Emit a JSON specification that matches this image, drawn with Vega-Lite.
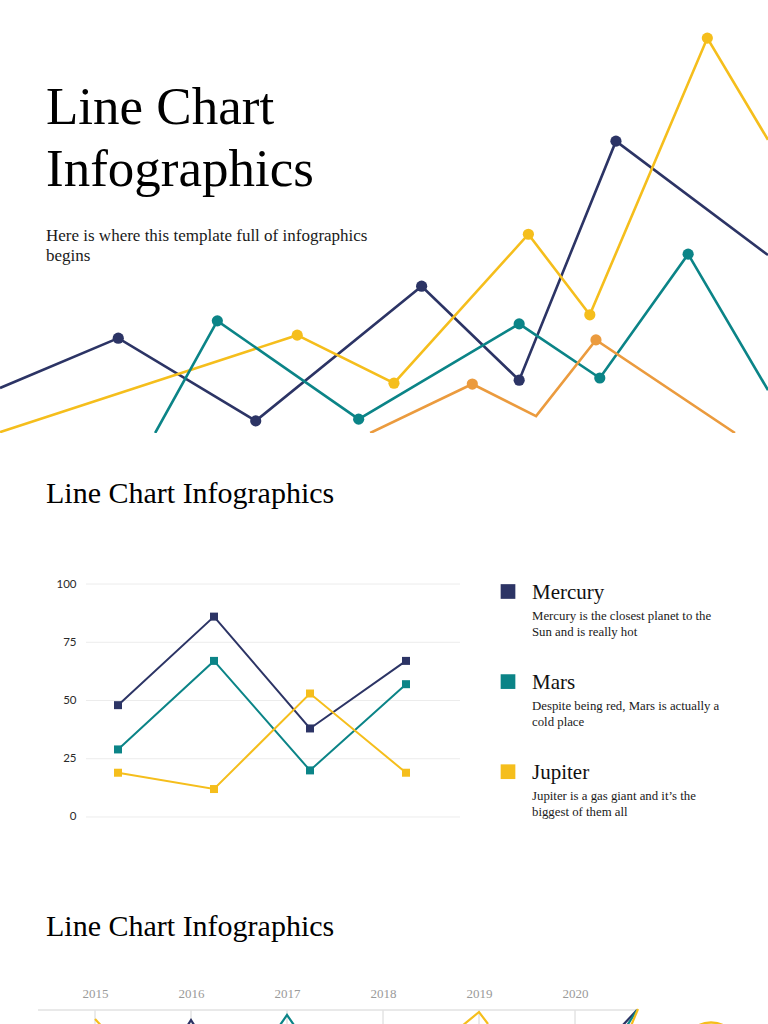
{
  "$schema": "https://vega.github.io/schema/vega-lite/v6.json",
  "background": "white",
  "padding": 0,
  "spacing": 0,
  "bounds": "flush",
  "config": {
    "view": {"stroke": null},
    "title": {"font": "Liberation Serif", "fontWeight": "normal", "color": "#000000", "anchor": "start", "frame": "group", "orient": "top"}
  },
  "vconcat": [
    {
      "width": 768,
      "height": 433,
      "title": {
        "text": ["Line Chart", "Infographics"],
        "subtitle": ["Here is where this template full of infographics", "begins"],
        "offset": -264,
        "dx": 46,
        "fontSize": 53,
        "lineHeight": 62,
        "subtitleFont": "Liberation Serif",
        "subtitleFontSize": 17,
        "subtitleLineHeight": 20,
        "subtitleColor": "#1a1a1a",
        "subtitlePadding": 31
      },
      "data": {
        "values": [
          {"series": "Mercury", "t": 0, "v": 10.4, "dot": false},
          {"series": "Mercury", "t": 15.4, "v": 21.9, "dot": true},
          {"series": "Mercury", "t": 33.3, "v": 2.8, "dot": true},
          {"series": "Mercury", "t": 54.9, "v": 33.9, "dot": true},
          {"series": "Mercury", "t": 67.6, "v": 12.2, "dot": true},
          {"series": "Mercury", "t": 80.2, "v": 67.4, "dot": true},
          {"series": "Mercury", "t": 100, "v": 41.1, "dot": false},
          {"series": "Jupiter", "t": 0, "v": 0.2, "dot": false},
          {"series": "Jupiter", "t": 38.7, "v": 22.6, "dot": true},
          {"series": "Jupiter", "t": 51.3, "v": 11.5, "dot": true},
          {"series": "Jupiter", "t": 68.8, "v": 45.9, "dot": true},
          {"series": "Jupiter", "t": 76.8, "v": 27.3, "dot": true},
          {"series": "Jupiter", "t": 92.1, "v": 91.2, "dot": true},
          {"series": "Jupiter", "t": 100, "v": 67.7, "dot": false},
          {"series": "Mars", "t": 20.2, "v": 0, "dot": false},
          {"series": "Mars", "t": 28.3, "v": 25.9, "dot": true},
          {"series": "Mars", "t": 46.7, "v": 3.2, "dot": true},
          {"series": "Mars", "t": 67.6, "v": 25.2, "dot": true},
          {"series": "Mars", "t": 78.1, "v": 12.7, "dot": true},
          {"series": "Mars", "t": 89.6, "v": 41.3, "dot": true},
          {"series": "Mars", "t": 100, "v": 9.9, "dot": false},
          {"series": "Saturn", "t": 48.2, "v": 0, "dot": false},
          {"series": "Saturn", "t": 61.5, "v": 11.3, "dot": true},
          {"series": "Saturn", "t": 69.8, "v": 3.9, "dot": false},
          {"series": "Saturn", "t": 77.6, "v": 21.5, "dot": true},
          {"series": "Saturn", "t": 95.7, "v": 0, "dot": false}
        ]
      },
      "encoding": {
        "x": {"field": "t", "type": "quantitative", "scale": {"domain": [0, 100], "nice": false, "zero": false}, "axis": null},
        "y": {"field": "v", "type": "quantitative", "scale": {"domain": [0, 100], "nice": false, "zero": false}, "axis": null},
        "color": {
          "field": "series",
          "type": "nominal",
          "scale": {"domain": ["Mercury", "Mars", "Jupiter", "Saturn"], "range": ["#2c3465", "#0b8487", "#f5be1c", "#eb9b3e"]},
          "legend": null
        }
      },
      "layer": [
        {"mark": {"type": "line", "strokeWidth": 2.6, "clip": true}},
        {
          "transform": [{"filter": "datum.dot"}],
          "mark": {"type": "circle", "size": 125, "opacity": 1, "clip": true}
        }
      ]
    },
    {
      "width": 768,
      "height": 447,
      "title": {"text": "Line Chart Infographics", "offset": -76, "dx": 46, "fontSize": 30},
      "resolve": {"scale": {"y": "independent"}},
      "layer": [
        {
          "data": {
            "values": [
              {"planet": "Mercury", "idx": 1, "value": 48},
              {"planet": "Mercury", "idx": 2, "value": 86},
              {"planet": "Mercury", "idx": 3, "value": 38},
              {"planet": "Mercury", "idx": 4, "value": 67},
              {"planet": "Mars", "idx": 1, "value": 29},
              {"planet": "Mars", "idx": 2, "value": 67},
              {"planet": "Mars", "idx": 3, "value": 20},
              {"planet": "Mars", "idx": 4, "value": 57},
              {"planet": "Jupiter", "idx": 1, "value": 19},
              {"planet": "Jupiter", "idx": 2, "value": 12},
              {"planet": "Jupiter", "idx": 3, "value": 53},
              {"planet": "Jupiter", "idx": 4, "value": 19}
            ]
          },
          "layer": [
            {
              "data": {"values": [{"tick": 0}, {"tick": 25}, {"tick": 50}, {"tick": 75}, {"tick": 100}]},
              "mark": {"type": "rule", "color": "#ececec", "strokeWidth": 1},
              "encoding": {
                "y": {
                  "field": "tick",
                  "type": "quantitative",
                  "scale": {"domain": [-27.04, 164.81], "nice": false, "zero": false},
                  "axis": {
                    "orient": "left",
                    "offset": -86,
                    "values": [0, 25, 50, 75, 100],
                    "title": null,
                    "domain": false,
                    "ticks": false,
                    "tickSize": 0,
                    "grid": false,
                    "labelPadding": 10,
                    "labelFont": "Lato",
                    "labelFontSize": 11.5,
                    "labelColor": "#2a2a2a"
                  }
                },
                "x": {"datum": 0.6667, "type": "quantitative", "scale": {"domain": [-0.2292, 7.7708], "nice": false, "zero": false}, "axis": null},
                "x2": {"datum": 4.5625}
              }
            },
            {
              "mark": {"type": "line", "strokeWidth": 2},
              "encoding": {
                "x": {"field": "idx", "type": "quantitative", "scale": {"domain": [-0.2292, 7.7708], "nice": false, "zero": false}, "axis": null},
                "y": {"field": "value", "type": "quantitative", "scale": {"domain": [-27.04, 164.81], "nice": false, "zero": false}},
                "color": {
                  "field": "planet",
                  "type": "nominal",
                  "scale": {"domain": ["Mercury", "Mars", "Jupiter", "Saturn"], "range": ["#2c3465", "#0b8487", "#f5be1c", "#eb9b3e"]},
                  "legend": null
                }
              }
            },
            {
              "mark": {"type": "point", "shape": "square", "filled": true, "size": 64, "opacity": 1},
              "encoding": {
                "x": {"field": "idx", "type": "quantitative", "scale": {"domain": [-0.2292, 7.7708], "nice": false, "zero": false}, "axis": null},
                "y": {"field": "value", "type": "quantitative", "scale": {"domain": [-27.04, 164.81], "nice": false, "zero": false}},
                "color": {
                  "field": "planet",
                  "type": "nominal",
                  "scale": {"domain": ["Mercury", "Mars", "Jupiter", "Saturn"], "range": ["#2c3465", "#0b8487", "#f5be1c", "#eb9b3e"]},
                  "legend": null
                }
              }
            }
          ]
        },
        {
          "data": {
            "values": [
              {"planet": "Mercury", "desc": "Mercury is the closest planet to the\nSun and is really hot"},
              {"planet": "Mars", "desc": "Despite being red, Mars is actually a\ncold place"},
              {"planet": "Jupiter", "desc": "Jupiter is a gas giant and it’s the\nbiggest of them all"}
            ]
          },
          "encoding": {
            "y": {
              "field": "planet",
              "type": "nominal",
              "scale": {"type": "point", "domain": ["Mercury", "Mars", "Jupiter"], "range": [158.5, 338.7], "padding": 0},
              "axis": null
            }
          },
          "layer": [
            {
              "mark": {"type": "square", "size": 216, "opacity": 1},
              "encoding": {
                "x": {"datum": 5.0625, "type": "quantitative", "scale": {"domain": [-0.2292, 7.7708], "nice": false, "zero": false}, "axis": null},
                "color": {
                  "field": "planet",
                  "type": "nominal",
                  "scale": {"domain": ["Mercury", "Mars", "Jupiter", "Saturn"], "range": ["#2c3465", "#0b8487", "#f5be1c", "#eb9b3e"]},
                  "legend": null
                }
              }
            },
            {
              "mark": {"type": "text", "align": "left", "baseline": "alphabetic", "dy": 7.7, "font": "Liberation Serif", "fontSize": 21, "color": "#111111"},
              "encoding": {
                "x": {"datum": 5.3125, "type": "quantitative", "scale": {"domain": [-0.2292, 7.7708], "nice": false, "zero": false}, "axis": null},
                "text": {"field": "planet", "type": "nominal"}
              }
            },
            {
              "mark": {"type": "text", "align": "left", "baseline": "alphabetic", "dy": 28.7, "font": "Liberation Serif", "fontSize": 12.8, "lineHeight": 15.5, "lineBreak": "\n", "color": "#1a1a1a"},
              "encoding": {
                "x": {"datum": 5.3125, "type": "quantitative", "scale": {"domain": [-0.2292, 7.7708], "nice": false, "zero": false}, "axis": null},
                "text": {"field": "desc", "type": "nominal"}
              }
            }
          ]
        }
      ]
    },
    {
      "width": 768,
      "height": 144,
      "title": {"text": "Line Chart Infographics", "offset": -62, "dx": 46, "fontSize": 30},
      "layer": [
        {
          "data": {"values": [{"year": 2015}, {"year": 2016}, {"year": 2017}, {"year": 2018}, {"year": 2019}, {"year": 2020}]},
          "mark": {"type": "rule", "color": "#d6d6d6", "strokeWidth": 1, "clip": true},
          "encoding": {
            "x": {
              "field": "year",
              "type": "quantitative",
              "scale": {"domain": [2014.0104, 2022.0104], "nice": false, "zero": false},
              "axis": {
                "orient": "top",
                "offset": -130,
                "values": [2015, 2016, 2017, 2018, 2019, 2020],
                "format": "d",
                "title": null,
                "domain": false,
                "ticks": false,
                "tickSize": 0,
                "grid": false,
                "labelPadding": 12.5,
                "labelBaseline": "alphabetic",
                "labelFont": "Liberation Serif",
                "labelFontSize": 13,
                "labelColor": "#9a9a9a"
              }
            },
            "y": {"datum": 100, "type": "quantitative", "scale": {"domain": [86, 230], "nice": false, "zero": false}, "axis": null},
            "y2": {"datum": 70}
          }
        },
        {
          "data": {"values": [{}]},
          "mark": {"type": "rule", "color": "#e2e2e2", "strokeWidth": 1.5},
          "encoding": {
            "x": {"datum": 2014.406, "type": "quantitative", "scale": {"domain": [2014.0104, 2022.0104], "nice": false, "zero": false}},
            "x2": {"datum": 2020.646},
            "y": {"datum": 100, "type": "quantitative", "scale": {"domain": [86, 230], "nice": false, "zero": false}, "axis": null}
          }
        },
        {
          "data": {
            "values": [
              {"shape": "a", "series": "Jupiter", "year": 2015, "v": 91, "k": 0},
              {"shape": "a", "series": "Jupiter", "year": 2015.115, "v": 79, "k": 1},
              {"shape": "b", "series": "Mercury", "year": 2015.948, "v": 82, "k": 0},
              {"shape": "b", "series": "Mercury", "year": 2016, "v": 90, "k": 1},
              {"shape": "b", "series": "Mercury", "year": 2016.052, "v": 82, "k": 2},
              {"shape": "c", "series": "Mars", "year": 2016.906, "v": 82, "k": 0},
              {"shape": "c", "series": "Mars", "year": 2017, "v": 95, "k": 1},
              {"shape": "c", "series": "Mars", "year": 2017.094, "v": 82, "k": 2},
              {"shape": "d", "series": "Jupiter", "year": 2018.823, "v": 84, "k": 0},
              {"shape": "d", "series": "Jupiter", "year": 2019, "v": 98, "k": 1},
              {"shape": "d", "series": "Jupiter", "year": 2019.094, "v": 86, "k": 2},
              {"shape": "e", "series": "Mercury", "year": 2020.49, "v": 84, "k": 0},
              {"shape": "e", "series": "Mercury", "year": 2020.646, "v": 100, "k": 1},
              {"shape": "f", "series": "Mars", "year": 2020.54, "v": 84, "k": 0},
              {"shape": "f", "series": "Mars", "year": 2020.646, "v": 100, "k": 1},
              {"shape": "g", "series": "Jupiter", "year": 2020.583, "v": 84, "k": 0},
              {"shape": "g", "series": "Jupiter", "year": 2020.656, "v": 101, "k": 1}
            ]
          },
          "mark": {"type": "line", "strokeWidth": 2.2, "clip": true},
          "encoding": {
            "x": {"field": "year", "type": "quantitative", "scale": {"domain": [2014.0104, 2022.0104], "nice": false, "zero": false}},
            "y": {"field": "v", "type": "quantitative", "scale": {"domain": [86, 230], "nice": false, "zero": false}, "axis": null},
            "detail": {"field": "shape", "type": "nominal"},
            "order": {"field": "k", "type": "quantitative"},
            "color": {
              "field": "series",
              "type": "nominal",
              "scale": {"domain": ["Mercury", "Mars", "Jupiter", "Saturn"], "range": ["#2c3465", "#0b8487", "#f5be1c", "#eb9b3e"]},
              "legend": null
            }
          }
        },
        {
          "data": {"values": [{"series": "Jupiter", "year": 2021.417, "v": 61}]},
          "mark": {"type": "point", "shape": "circle", "filled": false, "size": 2827, "strokeWidth": 2.5, "opacity": 1, "clip": true},
          "encoding": {
            "x": {"field": "year", "type": "quantitative", "scale": {"domain": [2014.0104, 2022.0104], "nice": false, "zero": false}},
            "y": {"field": "v", "type": "quantitative", "scale": {"domain": [86, 230], "nice": false, "zero": false}, "axis": null},
            "color": {
              "field": "series",
              "type": "nominal",
              "scale": {"domain": ["Mercury", "Mars", "Jupiter", "Saturn"], "range": ["#2c3465", "#0b8487", "#f5be1c", "#eb9b3e"]},
              "legend": null
            }
          }
        }
      ]
    }
  ]
}
